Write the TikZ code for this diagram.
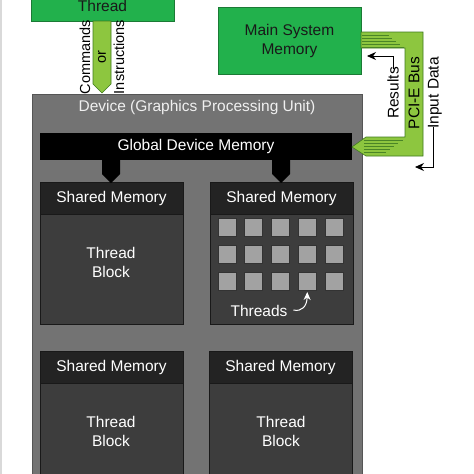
\documentclass[tikz,border=0pt]{standalone}
\usepackage{fontspec}
\setmainfont{Liberation Sans}
\usetikzlibrary{arrows.meta,calc}
\definecolor{hostgreen}{HTML}{22B14C}
\definecolor{hostborder}{HTML}{1B7A35}
\definecolor{busgreen}{HTML}{8DC63F}
\definecolor{busborder}{HTML}{3F7A1E}
\definecolor{stripe}{HTML}{4A8526}
\definecolor{devgray}{HTML}{737373}
\definecolor{devborder}{HTML}{555555}
\definecolor{hdrgray}{HTML}{232323}
\definecolor{bodygray}{HTML}{3D3D3D}
\definecolor{sqgray}{HTML}{A2A2A2}
\begin{document}
\begin{tikzpicture}[x=1pt,y=-1pt,
  every node/.style={inner sep=0pt, outer sep=0pt},
  txt/.style={font=\fontsize{15.5}{19}\selectfont},
  txts/.style={font=\fontsize{14.5}{17}\selectfont},
  hostbox/.style={draw=hostborder, fill=hostgreen, line width=1pt, anchor=north west, txt, text=black!90, align=center},
  devbox/.style={draw=devborder, fill=devgray, line width=1pt, anchor=north west},
  gmembox/.style={fill=black, anchor=north west, txt, text=white},
  hdrbox/.style={draw=black!90, fill=hdrgray, line width=0.8pt, anchor=north west, minimum width=143, minimum height=32, txt, text=white},
  bodybox/.style={draw=black!90, fill=bodygray, line width=0.8pt, anchor=north west, minimum width=143},
  sqbox/.style={draw=black!80, fill=sqgray, line width=0.7pt, anchor=north west, minimum width=18, minimum height=18},
  wtxt/.style={txt, text=white, align=center},
  buspath/.style={fill=busgreen, draw=busborder, line width=0.6pt},
  stripeline/.style={draw=stripe, line width=0.9pt},
  karrow/.style={draw=black, line width=0.8pt, -{Stealth[length=9pt,width=8pt]}},
  warrow/.style={draw=white, line width=1pt, -{Stealth[length=8pt,width=7pt]}}
]
\useasboundingbox (0,0) rectangle (474,474);
\clip (0,0) rectangle (474,474);
\fill[white] (0,0) rectangle (474,474);
\fill[black!15] (0,0) rectangle (2,474);

% Host thread box
\node[hostbox, minimum width=143, minimum height=31] (thread) at (31,-10) {Thread};
% Main system memory
\node[hostbox, minimum width=143, minimum height=67] (mainmem) at (218,7) {Main System\\Memory};

% Device
\node[devbox, minimum width=330, minimum height=420] (dev) at (32,94) {};
\node[txt, text=white!94!black] (devlbl) at (197,107) {Device (Graphics Processing Unit)};

% Commands arrow
\path[buspath] (93,21) -- (111,21) -- (111,84) -- (102,93) -- (93,84) -- cycle;
\node[txts, rotate=90] (cmd) at (85,57) {Commands};
\node[txts, rotate=90] (or) at (102,57) {or};
\node[txts, rotate=90] (instr) at (119,57) {Instructions};

% Global device memory
\node[gmembox, minimum width=312, minimum height=27] (gm) at (40,133) {Global Device Memory};

% PCI-E bus
\path[buspath] (mainmem.east |- 0,32) -- (423,32) -- (423,156) -- (366,156) -- (352,147) -- (366,137) -- (405,137) -- (405,48) -- (mainmem.east |- 0,48) -- cycle;
\foreach \yy/\xx in {35/389, 38/392, 41/396, 44/400, 47/404}
  \draw[stripeline] (362,\yy) -- (\xx,\yy);
\foreach \yy/\xx in {140/403, 143/398, 146/394, 149/390, 152/386}
  \draw[stripeline] (364,\yy) -- (\xx,\yy);
\node[txt, rotate=90] (pci) at (414,93) {PCI-E Bus};
\node[txt, rotate=90] (res) at (393,93) {Results};
\node[txt, rotate=90] (inp) at (435,93) {Input Data};
\coordinate (restip) at (367,56);
\coordinate (inptip) at (415,167);
\draw[karrow] ([yshift=-2pt]res.east) |- (restip);
\draw[karrow] ([yshift=2pt]inp.west -| 433,0) |- (inptip);

% Thread blocks
\node[hdrbox] (sm1) at (40,182) {Shared Memory};
\node[bodybox, minimum height=110] (tb1) at (40,214) {};
\node[hdrbox] (sm2) at (210,182) {Shared Memory};
\node[bodybox, minimum height=110] (tb2) at (210,214) {};
\node[hdrbox] (sm3) at (40,351) {Shared Memory};
\node[bodybox, minimum height=140] (tb3) at (40,383) {};
\node[hdrbox] (sm4) at (209,351) {Shared Memory};
\node[bodybox, minimum height=140] (tb4) at (209,383) {};

\node[wtxt] (tb1lbl) at (111,262) {Thread\\Block};
\node[wtxt] (tb3lbl) at (111,431) {Thread\\Block};
\node[wtxt] (tb4lbl) at (281,431) {Thread\\Block};

% Global memory to shared memory arrows
\fill[black] (102,159) -- (120,159) -- (120,174) -- (111,183) -- (102,174) -- cycle;
\fill[black] (272,159) -- (290,159) -- (290,174) -- (281,183) -- (272,174) -- cycle;

% Threads grid
\foreach \r in {1,2,3}
  \foreach \c in {1,...,5}
    \node[sqbox] (sq-\r-\c) at ({218+(\c-1)*26.75}, {218+(\r-1)*27}) {};
\node[txt, text=white] (thr) at (259,311) {Threads};
\draw[warrow] ([xshift=6pt,yshift=1pt]thr.east) .. controls (302,312) and (307,306) .. ([yshift=-2pt]sq-3-4.south);
\end{tikzpicture}
\end{document}
